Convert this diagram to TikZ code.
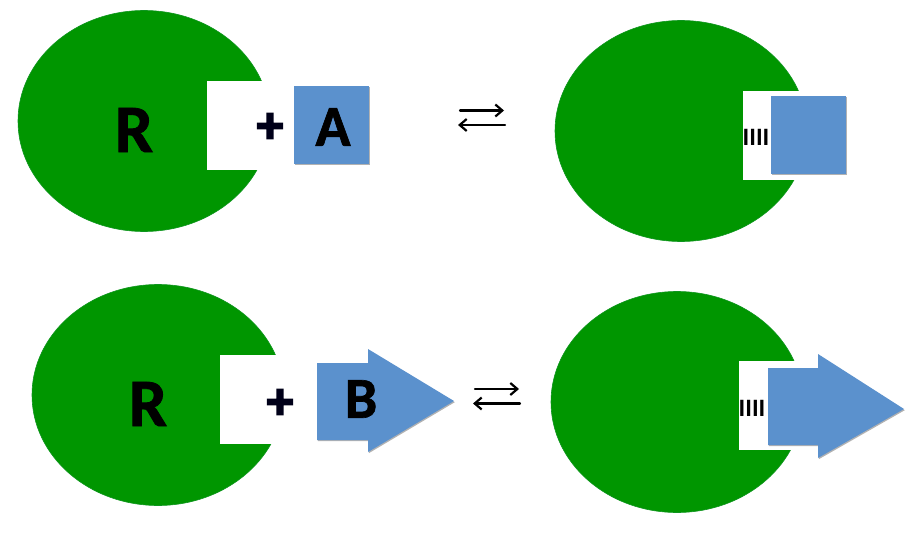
\documentclass[tikz,border=0pt]{standalone}
\usepackage{fontspec}
\setmainfont{Carlito}
\usetikzlibrary{shapes.geometric,shadows,calc,arrows.meta}
\definecolor{rgreen}{RGB}{0,150,0}
\definecolor{lblue}{RGB}{91,145,205}
\tikzset{
  x=1pt,y=-1pt,
  receptor/.style={ellipse,fill=rgreen,draw=rgreen!85!lblue,line width=.6pt,minimum width=252pt,minimum height=221pt,inner sep=0},
  notch/.style={rectangle,fill=white,inner sep=0,minimum width=90pt,minimum height=89pt,anchor=west},
  softshadow/.style={drop shadow={shadow xshift=.8pt,shadow yshift=-1.2pt,opacity=.3,fill=black}},
  ligand/.style={rectangle,fill=lblue,inner sep=0,minimum width=75pt,minimum height=78pt,softshadow},
  ligarrow/.style={fill=lblue,softshadow},
  biglabel/.style={font=\fontsize{68}{68}\selectfont\bfseries\addfontfeature{FakeBold=1.2},text=black,inner sep=0},
  letter/.style={font=\fontsize{58}{58}\selectfont\bfseries\addfontfeature{FakeBold=1.2},text=black,inner sep=0},
  plus/.style={font=\fontsize{52}{52}\selectfont\bfseries\addfontfeature{FakeBold=4},text=black!90!blue,inner sep=0},
  bars/.style={font=\fontsize{25}{25}\selectfont\bfseries,text=black,inner sep=0},
  rxn/.style={line width=2.2pt,black,line cap=round},
  barb/.style={-{Straight Barb[length=7pt,width=12pt]}}
}
\begin{document}
\begin{tikzpicture}
\useasboundingbox (0,0) rectangle (918,535);
% top left
\node[receptor] (r1) at (144,121) {};
\node[notch] (n1) at (207,125) {};
\node[biglabel] (t1) at (134,130) {R};
\node[plus] (p1) at (270,128) {+};
\node[ligand] (a1) at (331.5,125) {};
\node[letter] (la) at (333,127) {A};
% top right
\node[receptor] (r2) at (681,131) {};
\node[notch] (n2) at (743,135) {};
\node[bars] (b2) at (756,137) {IIII};
\node[ligand] (a2) at (808.5,135) {};
% bottom left
\node[receptor] (r3) at (158,395) {};
\node[notch] (n3) at (220,399.5) {};
\node[biglabel] (t3) at (148,404) {R};
\node[plus] (p3) at (280,404) {+};
\path[ligarrow] (317,363) -- (368,363) -- (368,349) -- (454,401) -- (368,452) -- (368,440) -- (317,440) -- cycle;
\node[letter] (lb) at (361,399) {B};
% bottom right
\node[receptor] (r4) at (677,402) {};
\node[notch] (n4) at (739,405.5) {};
\node[bars] (b4) at (752,408) {IIII};
\path[ligarrow] (768,368) -- (818,368) -- (818,354) -- (904,409) -- (818,458) -- (818,445) -- (768,445) -- cycle;
% equilibrium arrows
\coordinate (e1a) at (460,110.5); \coordinate (e1b) at (504,110.5);
\coordinate (e1c) at (505,125); \coordinate (e1d) at (458,125);
\draw[rxn,barb] (e1a) -- (e1b);
\draw[rxn,barb] (e1c) -- (e1d);
\coordinate (e2a) at (475,389); \coordinate (e2b) at (519,389);
\coordinate (e2c) at (520,403.5); \coordinate (e2d) at (473,403.5);
\draw[rxn,barb] (e2a) -- (e2b);
\draw[rxn,barb] (e2c) -- (e2d);
\end{tikzpicture}
\end{document}
